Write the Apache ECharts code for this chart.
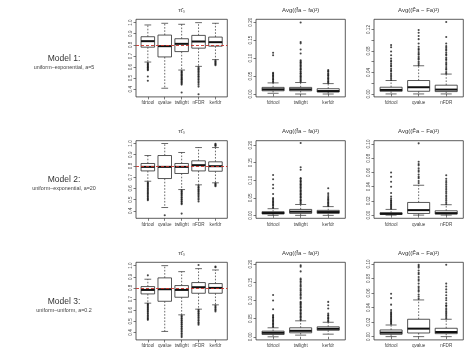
<!DOCTYPE html>
<html><head><meta charset="utf-8">
<script src="https://cdn.jsdelivr.net/npm/echarts@6/dist/echarts.min.js"></script>
<style>html,body{margin:0;padding:0;background:#fff}#c{width:474px;height:364px}</style>
</head><body><div id="c"></div>
<script>
// ---------- categories & labels ----------
const pi0Cats = ['fdrtool','qvalue','twilight','nFDR','kerfdr'];
const faCats  = ['fdrtool','twilight','kerfdr'];
const cdfCats = ['fdrtool','qvalue','nFDR'];
const modelNames = ['Model 1:','Model 2:','Model 3:'];
const modelDescs = ['uniform\u2013exponential, a=5','uniform\u2013exponential, a=20','uniform\u2013uniform, a=0.2'];
const colTitles = ['\u03c0\u0302\u2080','Avg((f\u0302a \u2212 fa)\u00b2)','Avg((F\u0302a \u2212 Fa)\u00b2)'];
const pi0True = 0.8;
// tick values
const pi0Ticks = [0.4,0.5,0.6,0.7,0.8,0.9,1.0];
const faTicks  = [0,0.05,0.10,0.15,0.20];
const cdfTicksA = [0,0.02,0.04,0.06,0.08,0.10,0.12];
const cdfLabelsA = [0,0.04,0.08,0.12];
const cdfTicksB = [0,0.02,0.04,0.06,0.08,0.10];

// ---------- box stats: [lower whisker, Q1, median, Q3, upper whisker] ----------
const m1Pi0Box = [[0.645,0.779,0.833,0.873,0.979],[0.409,0.691,0.788,0.888,0.994],[0.573,0.739,0.809,0.855,0.985],[0.606,0.770,0.830,0.885,1.0],[0.667,0.788,0.824,0.870,0.994]];
const m1Pi0Out = [[0.636,0.628,0.622,0.614,0.607,0.599,0.593,0.584,0.578,0.571,0.515,0.476],[],[0.563,0.555,0.548,0.539,0.531,0.525,0.516,0.507,0.500,0.491,0.485,0.476,0.467,0.460,0.451,0.442,0.370],[0.597,0.587,0.579,0.571,0.560,0.552,0.540,0.531,0.518,0.509,0.495,0.484,0.469,0.457,0.440,0.424,0.355],[0.659,0.650,0.643,0.634,0.626,0.617]];
const m1FaBox = [[0.002,0.009,0.013,0.0185,0.031],[0.0,0.009,0.013,0.0185,0.032],[0.0,0.0056,0.0083,0.0148,0.029]];
const m1FaOut = [[0.033,0.036,0.040,0.042,0.045,0.049,0.051,0.054,0.057,0.059,0.108,0.115],[0.034,0.037,0.040,0.043,0.047,0.049,0.052,0.056,0.058,0.061,0.064,0.068,0.070,0.073,0.077,0.079,0.082,0.086,0.088,0.091,0.094,0.113,0.124,0.141,0.145,0.199],[0.031,0.034,0.037,0.041,0.043,0.046,0.050,0.052,0.055,0.058,0.062,0.064,0.067]];
const m1CdfBox = [[0.0,0.005,0.0075,0.0125,0.025],[0.0,0.005,0.0125,0.025,0.0525],[0.0,0.0044,0.0081,0.0163,0.037]];
const m1CdfOut = [[0.026,0.029,0.032,0.035,0.038,0.042,0.044,0.047,0.051,0.053,0.056,0.060,0.062,0.066,0.072,0.079,0.087,0.091],[0.054,0.057,0.060,0.064,0.066,0.069,0.073,0.075,0.078,0.082,0.084,0.088,0.094,0.102,0.108,0.114,0.119],[0.038,0.041,0.045,0.047,0.050,0.054,0.056,0.059,0.063,0.065,0.068,0.072,0.074,0.077,0.081,0.083,0.086,0.089,0.094,0.106,0.134]];

const m2Pi0Box = [[0.664,0.756,0.792,0.822,0.893],[0.430,0.688,0.792,0.893,1.0],[0.590,0.733,0.792,0.822,0.920],[0.632,0.756,0.807,0.846,0.964],[0.650,0.753,0.798,0.837,0.964]];
const m2Pi0Out = [[0.655,0.646,0.638,0.628,0.619,0.611,0.600,0.592,0.581,0.573,0.562,0.554,0.543,0.532,0.523,0.511,0.503,0.495],[0.361],[0.584,0.575,0.568,0.558,0.551,0.541,0.533,0.522,0.515,0.504,0.497,0.486,0.479,0.468,0.460,0.376],[0.623,0.613,0.606,0.595,0.587,0.576,0.568,0.556,0.547,0.534,0.524,0.510,0.499,0.484],[0.998,0.990,0.984,0.978,0.644,0.636,0.627,0.620]];
const m2FaBox = [[0.0,0.004,0.0067,0.0105,0.019],[0.0,0.0057,0.0105,0.017,0.031],[0.0,0.0057,0.0095,0.0143,0.025]];
const m2FaOut = [[0.021,0.024,0.028,0.030,0.033,0.037,0.039,0.042,0.046,0.049,0.061,0.077,0.087,0.103,0.115],[0.034,0.037,0.041,0.043,0.046,0.050,0.052,0.055,0.059,0.061,0.064,0.068,0.070,0.073,0.077,0.079,0.082,0.086,0.088,0.091,0.095,0.097,0.100,0.104,0.106,0.130,0.137,0.206],[0.027,0.030,0.034,0.036,0.039,0.043,0.045,0.049,0.053,0.058,0.063,0.077]];
const m2CdfBox = [[0.0,0.001,0.0019,0.0033,0.008],[0.0,0.0023,0.007,0.0178,0.042],[0.0,0.0014,0.0028,0.0061,0.0146]];
const m2CdfOut = [[0.009,0.0105,0.012,0.0137,0.015,0.0166,0.018,0.0197,0.021,0.023,0.026,0.031,0.040,0.047,0.054,0.060],[0.045,0.048,0.052,0.054,0.057,0.061,0.063,0.066,0.070,0.072,0.075,0.101],[0.0155,0.018,0.0207,0.023,0.0256,0.028,0.0307,0.033,0.0357,0.038,0.0406,0.043,0.0457,0.048,0.051,0.056]];

const m3Pi0Box = [[0.663,0.746,0.782,0.812,0.878],[0.409,0.680,0.788,0.890,1.0],[0.558,0.716,0.782,0.821,0.946],[0.609,0.752,0.806,0.848,0.973],[0.648,0.752,0.800,0.839,0.961]];
const m3Pi0Out = [[0.913,0.657,0.648,0.641,0.630,0.623,0.612,0.605,0.594,0.586,0.574,0.566,0.553,0.544,0.531,0.522,0.513],[],[0.549,0.541,0.530,0.523,0.512,0.505,0.494,0.487,0.476,0.468,0.456,0.448,0.436,0.428,0.415,0.406,0.393,0.383,0.370,0.358],[1.006,0.603,0.593,0.586,0.575,0.567,0.556,0.548,0.536,0.527,0.514,0.504,0.490,0.481,0.469],[0.991,0.985,0.639,0.628,0.620,0.607,0.599,0.588]];
const m3FaBox = [[0.0,0.0064,0.011,0.0156,0.0248],[0.0046,0.011,0.0165,0.0248,0.044],[0.0073,0.018,0.022,0.0275,0.040]];
const m3FaOut = [[0.027,0.030,0.034,0.036,0.039,0.043,0.045,0.048,0.052,0.054,0.057,0.060,0.076,0.100,0.115],[0.046,0.049,0.053,0.055,0.058,0.062,0.064,0.067,0.071,0.073,0.076,0.080,0.082,0.085,0.089,0.091,0.094,0.096,0.105,0.109,0.114,0.117,0.121,0.126,0.129,0.133,0.138,0.141,0.145,0.150,0.153,0.157,0.160,0.180,0.193,0.197],[0.042,0.045,0.049,0.051,0.054,0.058,0.060,0.064,0.078,0.087,0.096]];
const m3CdfBox = [[0.0,0.0032,0.0055,0.0092,0.016],[0.0,0.005,0.011,0.0239,0.0505],[0.0,0.0041,0.0064,0.0115,0.0239]];
const m3CdfOut = [[0.0175,0.019,0.0207,0.022,0.0236,0.025,0.0267,0.028,0.0296,0.031,0.0326,0.034,0.0365,0.044,0.053,0.059],[0.052,0.055,0.058,0.062,0.064,0.067,0.069,0.073,0.077,0.079,0.082,0.086,0.088,0.091,0.095,0.097,0.099],[0.025,0.027,0.029,0.031,0.033,0.035,0.037,0.039,0.042,0.043,0.046,0.050,0.053,0.057,0.061,0.065,0.069,0.073,0.099]];

// ---------- layout ----------
const colGeom = [
  {left:136, width:91.3, xmin:0.3, xmax:5.7},
  {left:256, width:89.3, xmin:0.38, xmax:3.62},
  {left:374, width:89.3, xmin:0.38, xmax:3.62}
];
const rowTop = [19.3, 140.7, 262.3];
const rowH = 77.6;

const panels = [
  {row:0,col:0,cats:pi0Cats,box:m1Pi0Box,out:m1Pi0Out,yMin:0.331,yMax:1.03,ticks:pi0Ticks,labels:pi0Ticks,dec:1},
  {row:0,col:1,cats:faCats,box:m1FaBox,out:m1FaOut,yMin:-0.008,yMax:0.208,ticks:faTicks,labels:faTicks,dec:2},
  {row:0,col:2,cats:cdfCats,box:m1CdfBox,out:m1CdfOut,yMin:-0.0055,yMax:0.139,ticks:cdfTicksA,labels:cdfLabelsA,dec:2},
  {row:1,col:0,cats:pi0Cats,box:m2Pi0Box,out:m2Pi0Out,yMin:0.334,yMax:1.025,ticks:pi0Ticks,labels:pi0Ticks,dec:1},
  {row:1,col:1,cats:faCats,box:m2FaBox,out:m2FaOut,yMin:-0.0083,yMax:0.2125,ticks:faTicks,labels:faTicks,dec:2},
  {row:1,col:2,cats:cdfCats,box:m2CdfBox,out:m2CdfOut,yMin:-0.0045,yMax:0.1047,ticks:cdfTicksB,labels:cdfTicksB,dec:2},
  {row:2,col:0,cats:pi0Cats,box:m3Pi0Box,out:m3Pi0Out,yMin:0.333,yMax:1.03,ticks:pi0Ticks,labels:pi0Ticks,dec:1},
  {row:2,col:1,cats:faCats,box:m3FaBox,out:m3FaOut,yMin:-0.0085,yMax:0.205,ticks:faTicks,labels:faTicks,dec:2},
  {row:2,col:2,cats:cdfCats,box:m3CdfBox,out:m3CdfOut,yMin:-0.0045,yMax:0.1023,ticks:cdfTicksB,labels:cdfTicksB,dec:2}
];

const FONT = 'Liberation Sans, Arial, sans-serif';
const INK = '#2b2b2b';

function renderBox(params, api) {
  const x = api.value(0);
  const lo = api.coord([x, api.value(1)]);
  const q1 = api.coord([x, api.value(2)]);
  const md = api.coord([x, api.value(3)]);
  const q3 = api.coord([x, api.value(4)]);
  const hi = api.coord([x, api.value(5)]);
  const bw = api.size([0.8, 0])[0];
  const cx = lo[0], h = bw / 2, s = bw / 4;
  const thin = {stroke: INK, lineWidth: 0.7};
  return {type: 'group', children: [
    {type: 'line', shape: {x1: cx, y1: q1[1], x2: cx, y2: lo[1]}, style: {stroke: INK, lineWidth: 0.7, lineDash: [1.6, 1.6]}},
    {type: 'line', shape: {x1: cx, y1: q3[1], x2: cx, y2: hi[1]}, style: {stroke: INK, lineWidth: 0.7, lineDash: [1.6, 1.6]}},
    {type: 'line', shape: {x1: cx - s, y1: lo[1], x2: cx + s, y2: lo[1]}, style: thin},
    {type: 'line', shape: {x1: cx - s, y1: hi[1], x2: cx + s, y2: hi[1]}, style: thin},
    {type: 'rect', shape: {x: cx - h, y: q3[1], width: bw, height: q1[1] - q3[1]}, style: {fill: '#fff', stroke: INK, lineWidth: 0.8}},
    {type: 'line', shape: {x1: cx - h, y1: md[1], x2: cx + h, y2: md[1]}, style: {stroke: '#111', lineWidth: 2}}
  ]};
}

const grids = [], xAxes = [], yAxes = [], series = [], graphics = [];
panels.forEach((p, i) => {
  const g = colGeom[p.col], top = rowTop[p.row];
  grids.push({left: g.left, width: g.width, top: top, height: rowH, show: true, borderColor: '#333', borderWidth: 0.8, backgroundColor: 'rgba(0,0,0,0)', containLabel: false});
  const xs = p.cats.map((_, k) => k + 1);
  xAxes.push({gridIndex: i, type: 'value', min: g.xmin, max: g.xmax, splitLine: {show: false}, axisLine: {show: false},
    axisTick: {show: true, length: 2.5, customValues: xs, lineStyle: {color: '#444', width: 0.7}},
    axisLabel: {customValues: xs, formatter: v => p.cats[Math.round(v) - 1], fontSize: 4.6, color: '#444', margin: 3.5, fontFamily: FONT}});
  yAxes.push({gridIndex: i, type: 'value', min: p.yMin, max: p.yMax, splitLine: {show: false}, axisLine: {show: false},
    axisTick: {show: true, length: 2.5, customValues: p.ticks, lineStyle: {color: '#444', width: 0.7}},
    axisLabel: {customValues: p.labels, rotate: 90, formatter: v => v.toFixed(p.dec), fontSize: 4.6, color: '#444', margin: 2.5, fontFamily: FONT}});
  series.push({type: 'custom', xAxisIndex: i, yAxisIndex: i, renderItem: renderBox, encode: {x: 0, y: [1, 2, 3, 4, 5]},
    data: p.box.map((b, k) => [k + 1].concat(b)), silent: true, animation: false, z: 2});
  const pts = [];
  p.out.forEach((arr, k) => arr.forEach(v => pts.push([k + 1, v])));
  const sc = {type: 'scatter', xAxisIndex: i, yAxisIndex: i, data: pts, symbol: 'circle', symbolSize: 2.1,
    itemStyle: {color: '#1a1a1a'}, silent: true, animation: false, z: 3};
  if (p.col === 0) {
    sc.markLine = {symbol: 'none', silent: true, animation: false, label: {show: false},
      lineStyle: {color: '#c8322a', type: [3, 2], width: 0.9}, data: [{yAxis: pi0True}]};
  }
  series.push(sc);
  graphics.push({type: 'text', x: g.left + g.width / 2, y: top - 9, style: {text: colTitles[p.col], align: 'center', verticalAlign: 'middle', fontSize: 6, fill: '#333', fontFamily: FONT}});
});
modelNames.forEach((m, r) => {
  const cy = rowTop[r] + 39;
  graphics.push({type: 'text', x: 64, y: cy, style: {text: m, align: 'center', verticalAlign: 'middle', fontSize: 8.5, fill: '#333', fontFamily: FONT}});
  graphics.push({type: 'text', x: 64, y: cy + 9, style: {text: modelDescs[r], align: 'center', verticalAlign: 'middle', fontSize: 5.4, fill: '#444', fontFamily: FONT}});
});

const chart = echarts.init(document.getElementById('c'), null, {renderer: 'canvas'});
chart.setOption({animation: false, grid: grids, xAxis: xAxes, yAxis: yAxes, series: series, graphic: graphics});
</script></body></html>
